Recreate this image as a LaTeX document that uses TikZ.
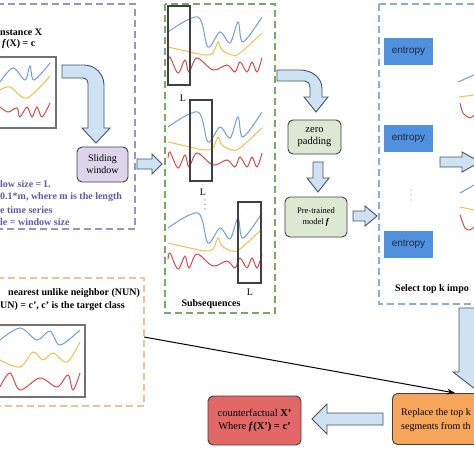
\documentclass[tikz,border=0pt]{standalone}
\usepackage{fontspec}
\setmainfont{Liberation Serif}
\newfontfamily\arialf{Liberation Sans}
\usetikzlibrary{arrows.meta}
\definecolor{purdash}{HTML}{9A93C6}
\definecolor{purtext}{HTML}{6558A8}
\definecolor{grndash}{HTML}{78A865}
\definecolor{bludash}{HTML}{8AAED0}
\definecolor{orgdash}{HTML}{E8C592}
\definecolor{slidefill}{HTML}{DCD5EC}
\definecolor{grnfill}{HTML}{DBE9D2}
\definecolor{entblue}{HTML}{5090DC}
\definecolor{enttext}{HTML}{1F2A44}
\definecolor{cfill}{HTML}{E26868}
\definecolor{repfill}{HTML}{F5A65B}
\definecolor{arrfill}{HTML}{CFE2F3}
\definecolor{arrdraw}{HTML}{44546A}
\definecolor{nodeborder}{HTML}{404040}
\definecolor{serblue}{HTML}{6F9FD8}
\definecolor{seryel}{HTML}{F0BF4C}
\definecolor{serred}{HTML}{D94A4A}
\tikzset{
  grp/.style={dash pattern=on 7pt off 4pt, line width=1.3pt},
  procnode/.style={draw=nodeborder, line width=0.9pt, rounded corners=5pt, align=center, inner sep=1pt},
  entnode/.style={fill=entblue, minimum width=49pt, minimum height=27pt, inner sep=0pt, font=\arialf\fontsize{10}{12}\selectfont, text=enttext},
  barrow/.style={fill=arrfill, draw=arrdraw, line width=0.9pt, line join=miter},
  plotbox/.style={draw=black!55, line width=1.2pt},
  winrect/.style={draw=black!75, line width=1.2pt},
  sb/.style={draw=serblue, line width=1pt},
  sy/.style={draw=seryel, line width=1pt},
  sr/.style={draw=serred, line width=1pt},
  btxt/.style={font=\bfseries\fontsize{10}{12}\selectfont, inner sep=0pt},
  ptxt/.style={btxt, text=purtext, anchor=west},
  dotmark/.style={fill=black!60},
  ts/.pic={
    \draw[sb] plot[smooth, tension=0.55] coordinates {(0,17) (30,2) (40,32) (52,17) (62,28) (70,7) (75,27) (94,2)};
    \draw[sy] plot[smooth, tension=0.55] coordinates {(0,32) (22,37) (37,40) (45,38) (50,27) (54,35) (64,40) (72,38) (94,18)};
    \draw[sr] plot[smooth, tension=0.55] coordinates {(0,48) (2,42) (10,58) (17,45) (21,57) (29,43) (45,55) (59,50) (67,57) (72,47) (79,57) (84,47) (89,57) (94,43)};
  }
}
\begin{document}
\begin{tikzpicture}[x=1pt,y=-1pt]
\useasboundingbox (0,0) rectangle (474,474);
\clip (0,0) rectangle (474,474);
\fill[white] (0,0) rectangle (474,474);

% group boxes
\draw[grp, draw=purdash] (-10,4) rectangle (135,229);
\draw[grp, draw=grndash] (165,4) rectangle (275,313);
\draw[grp, draw=bludash] (379,4) rectangle (495,304);
\draw[grp, draw=orgdash] (-10,278) rectangle (144,406);

% instance X
\node[btxt, anchor=west] (instA) at (0,32) {nstance X};
\node[btxt, anchor=west] (instB) at (2,44) {\textit{f}(X) = c};
\draw[plotbox] (-5,57) rectangle (56,128);
\draw[sb] plot[smooth, tension=0.55] coordinates {(0,82) (13,68) (25,80) (30,66) (34,80) (50,63)};
\draw[sy] plot[smooth, tension=0.55] coordinates {(0,90) (10,87) (27,98) (50,76)};
\draw[sr] plot[smooth, tension=0.55] coordinates {(0,107) (8,112) (17,108) (20,117) (27,107) (32,117) (37,107) (42,117) (50,103)};

% curved arrow 1
\draw[barrow] (62,65) -- (84,65) .. controls (95,65) and (104,74) .. (104,85) -- (104,128) -- (110,128) -- (96,143) -- (82,128) -- (88,128) -- (88,84) .. controls (88,80) and (86,78) .. (82,78) -- (62,78) -- cycle;

% sliding window
\node[procnode, fill=slidefill, minimum width=51pt, minimum height=35pt, font=\fontsize{10}{12}\selectfont] (slide) at (102.5,164.5) {Sliding\\window};

% purple text
\node[ptxt] (p1) at (0,184) {low size = L};
\node[ptxt] (p2) at (0,197) {0.1*m, where m is the length};
\node[ptxt] (p3) at (0,210) {e time series};
\node[ptxt] (p4) at (0,222) {le = window size};

% arrow slide -> subsequences
\draw[barrow] (137,159) -- (152,159) -- (152,154) -- (162,164) -- (152,174) -- (152,169) -- (137,169) -- cycle;

% subsequences
\pic at (168,15) {ts};
\pic at (168,110) {ts};
\pic at (168,211) {ts};
\draw[winrect] (168,6) rectangle (190,85);
\draw[winrect] (190,100) rectangle (212,181);
\draw[winrect] (238,202) rectangle (261,283);
\node[font=\fontsize{10}{12}\selectfont, inner sep=0pt] (L1) at (183,98) {L};
\node[font=\fontsize{10}{12}\selectfont, inner sep=0pt] (L2) at (203,192) {L};
\node[font=\fontsize{10}{12}\selectfont, inner sep=0pt] (L3) at (250,292) {L};
\foreach \yy in {200,204.5,209} \fill[dotmark] (205,\yy) circle (0.6pt);
\node[btxt] (subs) at (211,304) {Subsequences};

% curved arrow 2
\draw[barrow] (277,70) -- (300,70) .. controls (312,70) and (322,78) .. (322,88) -- (322,97) -- (328,97) -- (316,112) -- (304,97) -- (310,97) -- (310,87) .. controls (310,84) and (308,81) .. (305,81) -- (277,81) -- cycle;

% zero padding / model
\node[procnode, fill=grnfill, minimum width=53pt, minimum height=34pt, font=\fontsize{10.5}{12}\selectfont] (zero) at (314.5,137) {zero\\padding};
\draw[barrow] (313,162) -- (323,162) -- (323,178) -- (329,178) -- (318,192) -- (307,178) -- (313,178) -- cycle;
\node[procnode, fill=grnfill, minimum width=62pt, minimum height=40pt, font=\fontsize{8.5}{11}\selectfont] (model) at (316,217) {Pre-trained\\model \textbf{\textit{f}}};
\draw[barrow] (353,211) -- (365,211) -- (365,206) -- (377,216) -- (365,226) -- (365,221) -- (353,221) -- cycle;

% entropy
\node[entnode] (e1) at (408.5,51.5) {entropy};
\node[entnode] (e2) at (408.5,138.5) {entropy};
\node[entnode] (e3) at (408.5,244.5) {entropy};
\foreach \yy in {190,195,200} \fill[dotmark, fill=black!45] (411,\yy) circle (0.6pt);
\draw[barrow] (440,157) -- (462,157) -- (462,152) -- (480,162) -- (462,172) -- (462,167) -- (440,167) -- cycle;
\draw[sb] (458,82) -- (474,75);
\draw[sy] (459,97) -- (474,95);
\draw[sr] plot[smooth, tension=0.5] coordinates {(460,103) (463,113) (470,118) (474,115)};
\draw[sb] (460,193) -- (474,185);
\draw[sy] (460,207) -- (474,210);
\draw[sr] plot[smooth, tension=0.5] coordinates {(460,215) (465,228) (470,230) (474,227)};
\node[btxt, anchor=west] (sel) at (395,289) {Select top k impo};

% big down arrow
\draw[barrow] (459,308) -- (491,308) -- (491,372) -- (497,372) -- (475,389) -- (453,372) -- (459,372) -- cycle;

% NUN
\node[btxt, anchor=west] (nun1) at (8,293) {nearest unlike neighbor (NUN)};
\node[btxt, anchor=west] (nun2) at (0,306) {UN) = c', c' is the target class};
\draw[plotbox] (-5,325) rectangle (85,397);
\draw[sb] plot[smooth, tension=0.55] coordinates {(0,340) (20,328) (37,340) (50,331) (60,345) (80,330)};
\draw[sy] plot[smooth, tension=0.55] coordinates {(0,360) (20,367) (33,352) (43,360) (53,353) (67,362) (80,342)};
\draw[sr] plot[smooth, tension=0.55] coordinates {(0,387) (10,373) (20,390) (40,378) (57,387) (68,375) (73,390) (80,373)};

% replace node, counterfactual
\node[procnode, fill=repfill, anchor=north west, minimum width=100pt, minimum height=51pt, inner sep=0pt] (replace) at (392,393) {};
\node[anchor=west, align=left, inner sep=0pt, font=\fontsize{10}{14}\selectfont] (reptext) at (401,420) {Replace the top k\\segments from th};
\coordinate (nunout) at (144,337);
\coordinate (reptop) at (455,393);
\draw[line width=1pt, -{Stealth[length=8pt,width=6pt]}] (nunout) -- (reptop);
\draw[barrow] (383,413) -- (327,413) -- (327,404) -- (312,419) -- (327,434) -- (327,425) -- (383,425) -- cycle;
\node[procnode, fill=cfill, minimum width=93pt, minimum height=49pt, font=\fontsize{10.5}{13}\selectfont] (cf) at (254.5,420.5) {counterfactual \textbf{X'}\\Where \textbf{\textit{f}(X') = c'}};
\end{tikzpicture}
\end{document}
